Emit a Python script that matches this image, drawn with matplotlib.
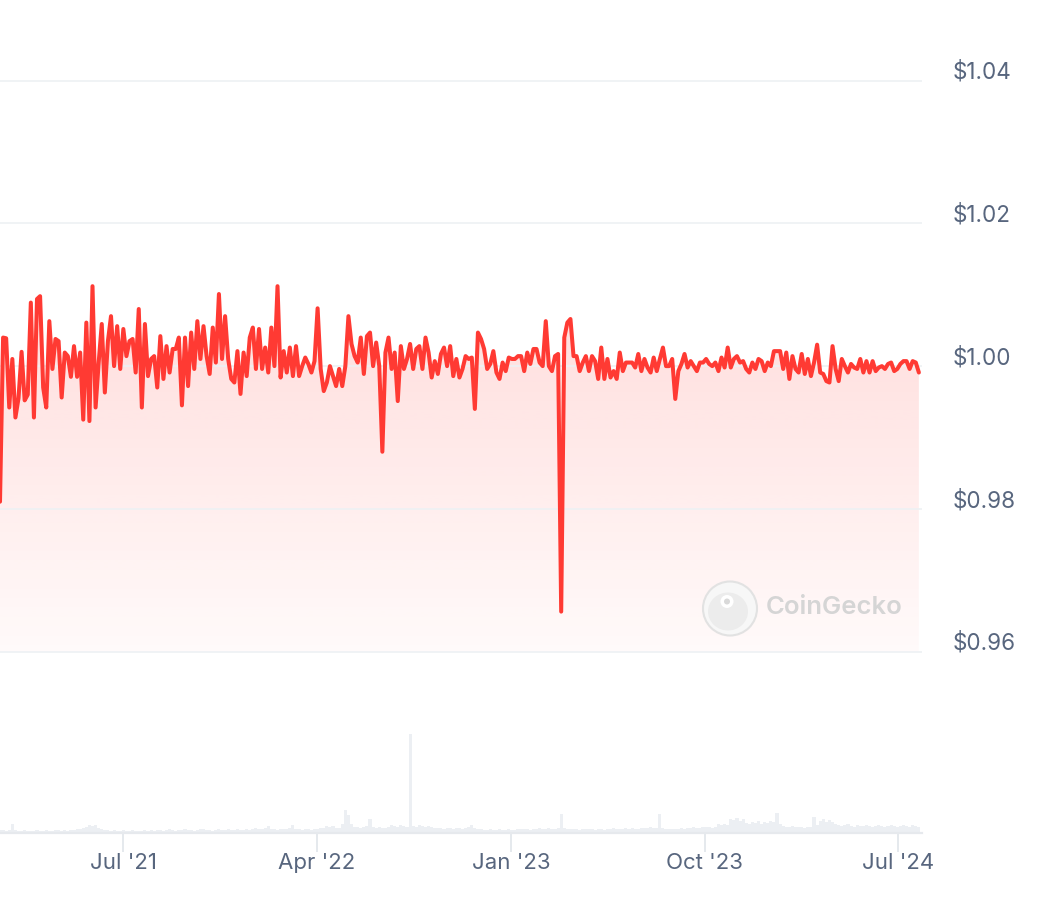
import numpy as np
import pandas as pd
import matplotlib
matplotlib.use("Agg")
import matplotlib.pyplot as plt
import matplotlib.dates as mdates
from matplotlib.patches import Circle, Ellipse
from matplotlib.transforms import blended_transform_factory, ScaledTranslation

plt.rcParams['font.family'] = ['Inter', 'DejaVu Sans']

# ---------------- data ----------------
start_date = '2021-01-08'
end_date = '2024-07-30'

price = [
    # Jan 2021 - Apr 2021
    0.9810, 1.0040, 1.0039, 0.9942, 1.0010, 0.9928, 0.9955, 1.0020, 0.9952, 0.9960,
    1.0089, 0.9928, 1.0094, 1.0098, 0.9970, 0.9942, 1.0063, 0.9996, 1.0038, 1.0035,
    0.9956, 1.0019, 1.0014, 0.9985, 1.0028, 0.9985, 1.0019, 0.9925, 1.0061, 0.9923,
    1.0112, 0.9942, 1.0005, 1.0059, 0.9963, 1.0035, 1.0070, 1.0000, 1.0056, 0.9996,
    1.0052, 1.0014, 1.0035, 1.0038, 0.9991, 1.0080, 0.9942, 1.0059, 0.9986, 1.0010,
    1.0014, 0.9970, 1.0042, 0.9982, 1.0028, 0.9991, 1.0024, 1.0024, 1.0040, 0.9945,
    # 2021 - 2022
    1.0040, 0.9972, 1.0047, 0.9996, 1.0063, 1.0010, 1.0056, 1.0014, 0.9989, 1.0054,
    1.0005, 1.0101, 1.0010, 1.0070, 1.0010, 0.9982, 0.9977, 1.0021, 0.9961, 1.0019,
    0.9986, 1.0040, 1.0054, 0.9996, 1.0052, 0.9996, 1.0026, 0.9991, 1.0054, 1.0000,
    1.0112, 0.9984, 1.0021, 0.9991, 1.0026, 0.9986, 1.0028, 0.9986, 1.0000, 1.0012,
    1.0003, 0.9991, 1.0007, 1.0081, 0.9996, 0.9965, 0.9977, 1.0000, 0.9986, 0.9972,
    0.9996, 0.9972, 1.0000, 1.0070, 1.0031, 1.0014, 1.0005, 1.0040, 0.9989, 1.0042,
    # 2022 - 2023
    1.0047, 1.0000, 1.0033, 1.0000, 0.9880, 1.0019, 1.0040, 0.9996, 1.0019, 0.9951,
    1.0028, 0.9996, 1.0010, 1.0031, 0.9996, 1.0024, 1.0028, 0.9996, 1.0040, 1.0019,
    0.9984, 1.0007, 0.9989, 1.0017, 1.0026, 1.0000, 1.0028, 0.9986, 1.0010, 0.9984,
    0.9996, 1.0014, 1.0010, 1.0012, 0.9940, 1.0047, 1.0038, 1.0024, 0.9996, 1.0003,
    1.0021, 0.9991, 0.9982, 1.0005, 0.9993, 1.0012, 1.0010, 1.0010, 1.0014, 1.0014,
    0.9993, 1.0019, 1.0003, 1.0024, 1.0024, 1.0005, 1.0000, 1.0063, 1.0000, 0.9993,
    # 2023 - 2024
    1.0014, 1.0017, 0.9656, 1.0040, 1.0061, 1.0066, 1.0014, 1.0014, 0.9993, 1.0005,
    1.0014, 0.9993, 1.0014, 1.0007, 0.9982, 1.0026, 0.9982, 1.0010, 0.9984, 0.9993,
    0.9982, 1.0019, 0.9993, 1.0005, 1.0005, 1.0005, 0.9998, 1.0017, 0.9993, 1.0010,
    0.9998, 0.9991, 1.0012, 0.9993, 1.0010, 1.0026, 1.0000, 1.0000, 1.0010, 0.9954,
    0.9993, 1.0003, 1.0017, 0.9998, 1.0007, 1.0000, 0.9993, 1.0005, 1.0005, 1.0010,
    1.0003, 1.0000, 1.0005, 0.9993, 1.0012, 0.9998, 1.0026, 0.9998, 1.0010, 1.0014,
    # 2024
    1.0005, 1.0007, 0.9996, 0.9991, 1.0005, 0.9996, 1.0010, 1.0007, 0.9993, 1.0005,
    1.0000, 1.0021, 1.0021, 1.0021, 0.9996, 1.0019, 0.9982, 1.0014, 0.9996, 0.9991,
    1.0017, 0.9989, 1.0010, 0.9986, 1.0005, 1.0030, 0.9991, 0.9989, 0.9979, 0.9977,
    1.0028, 0.9996, 0.9979, 1.0010, 1.0000, 0.9991, 1.0003, 0.9998, 0.9996, 1.0010,
    0.9991, 1.0007, 0.9991, 1.0007, 0.9993, 0.9998, 1.0000, 0.9996, 1.0003, 1.0005,
    0.9993, 0.9996, 1.0003, 1.0007, 1.0007, 0.9996, 1.0007, 1.0005, 0.9991,
]

volume = [  # relative trading volume ($M)
    3, 3, 2, 3, 9, 3, 2, 2, 3, 2,
    2, 2, 3, 2, 2, 3, 2, 2, 3, 3,
    2, 3, 2, 3, 3, 4, 4, 5, 6, 8,
    7, 8, 5, 4, 3, 3, 2, 3, 2, 2,
    3, 2, 2, 3, 2, 2, 2, 3, 2, 3,
    2, 3, 3, 2, 3, 4, 3, 2, 3, 3,
    4, 3, 3, 2, 3, 4, 4, 3, 3, 2,
    3, 4, 3, 3, 4, 3, 3, 4, 3, 3,
    4, 3, 4, 5, 4, 4, 5, 7, 4, 4,
    3, 4, 4, 4, 5, 8, 4, 4, 3, 4,
    4, 3, 4, 4, 5, 5, 7, 6, 7, 5,
    5, 9, 23, 18, 9, 6, 6, 5, 6, 7,
    14, 6, 5, 6, 5, 5, 6, 8, 7, 6,
    8, 7, 6, 99, 7, 6, 8, 7, 6, 7,
    6, 5, 5, 5, 4, 5, 5, 4, 5, 5,
    4, 5, 6, 8, 5, 4, 4, 3, 3, 4,
    3, 3, 4, 3, 3, 4, 3, 3, 4, 4,
    4, 4, 3, 4, 4, 5, 4, 4, 5, 4,
    4, 5, 19, 5, 4, 4, 4, 4, 3, 4,
    4, 4, 4, 3, 4, 4, 3, 4, 4, 5,
    4, 4, 4, 5, 4, 5, 4, 4, 5, 5,
    5, 6, 5, 5, 19, 5, 4, 4, 4, 4,
    4, 5, 4, 5, 5, 6, 5, 5, 6, 6,
    6, 5, 6, 9, 8, 9, 8, 14, 13, 15,
    12, 14, 10, 9, 11, 10, 12, 9, 11, 10,
    12, 11, 20, 9, 7, 6, 6, 7, 6, 6,
    6, 5, 6, 6, 16, 8, 12, 14, 11, 13,
    11, 9, 8, 7, 8, 9, 7, 6, 8, 7,
    7, 8, 7, 6, 7, 8, 7, 6, 7, 8,
    7, 6, 7, 8, 7, 6, 8, 7, 6,
]

x_tick_dates = ['2021-07-01', '2022-04-01', '2023-01-01', '2023-10-01', '2024-07-01']
x_tick_labels = ["Jul '21", "Apr '22", "Jan '23", "Oct '23", "Jul '24"]
price_ticks = [0.96, 0.98, 1.00, 1.02, 1.04]
price_tick_labels = ['$0.96', '$0.98', '$1.00', '$1.02', '$1.04']

# ---------------- styling ----------------
RED = '#ff3a33'
GRID = '#eef1f4'
LABEL = '#58667e'
W, H = 1043, 898

dates = pd.date_range(start_date, end_date, periods=len(price))
vdates = pd.date_range(start_date, end_date, periods=len(volume))

fig = plt.figure(figsize=(W / 100, H / 100), dpi=100)
fig.patch.set_facecolor('white')

plot_w = 921.7 / W
ax = fig.add_axes([0, 1 - 653 / H, plot_w, 653 / H])
axv = fig.add_axes([0, 1 - 833 / H, plot_w, 120 / H], sharex=ax)

xmin = mdates.date2num(pd.Timestamp('2021-01-08'))
xmax = mdates.date2num(pd.Timestamp('2024-08-03'))
ybot, ytop = 0.96, 1.0513

# gradient area fill under the price line
poly = ax.fill_between(dates, price, ybot, facecolor='none', edgecolor='none')
n = 256
frac = np.linspace(0, 1, n)
pvals = ybot + frac * (ytop - ybot)
alpha = np.clip(0.025 + (pvals - 0.96) / 0.04 * 0.119, 0, 1)
rgba = np.zeros((n, 1, 4))
rgba[..., 0] = 1.0
rgba[..., 1] = 58 / 255
rgba[..., 2] = 51 / 255
rgba[:, 0, 3] = alpha
im = ax.imshow(rgba, extent=[xmin, xmax, ybot, ytop], origin='lower',
               aspect='auto', zorder=1, interpolation='bilinear')
im.set_clip_path(poly.get_paths()[0], ax.transData)

ax.plot(dates, price, color=RED, lw=2.9, solid_joinstyle='round',
        solid_capstyle='round', zorder=3)

ax.set_xlim(xmin, xmax)
ax.set_ylim(0.9598, ytop)
ax.set_yticks(price_ticks)
ax.grid(axis='y', color=GRID, lw=1.2, zorder=0)
ax.tick_params(axis='y', length=0, labelleft=False, labelright=False)
ax.tick_params(axis='x', bottom=False, labelbottom=False)
for s in ax.spines.values():
    s.set_visible(False)
ax.patch.set_alpha(0)

# right-side price labels (slightly above grid lines)
tr = blended_transform_factory(ax.transAxes, ax.transData) + \
    ScaledTranslation(0, 0.08, fig.dpi_scale_trans)
for v, lab in zip(price_ticks, price_tick_labels):
    ax.text(953 / 921.7, v, lab, transform=tr, ha='left', va='center',
            fontsize=16.2, color=LABEL, clip_on=False)

# volume pane
axv.bar(vdates, volume, width=4.4, color='#eceff3', linewidth=0, zorder=1)
axv.set_ylim(0, 120)
axv.set_xlim(xmin, xmax)
axv.patch.set_alpha(0)
for k in ['top', 'left', 'right']:
    axv.spines[k].set_visible(False)
axv.spines['bottom'].set_color('#e6e9ed')
axv.spines['bottom'].set_linewidth(1.6)
axv.set_yticks([])
axv.set_xticks([mdates.date2num(pd.Timestamp(d)) for d in x_tick_dates])
axv.set_xticklabels(x_tick_labels)
axv.tick_params(axis='x', length=14, width=1.3, color='#e3e7ec', pad=0.5,
                labelsize=16, labelcolor=LABEL)

# CoinGecko watermark
cx, cy, r = 7.30, (H - 608.5) / 100, 0.27
fig.add_artist(Circle((cx, cy), r, transform=fig.dpi_scale_trans,
                      facecolor='#f7f7f7', edgecolor='#e2e2e2', lw=1.5, zorder=5))
fig.add_artist(Ellipse((cx - 0.02, cy - 0.03), 0.40, 0.38, transform=fig.dpi_scale_trans,
                       facecolor='#ececec', edgecolor='none', zorder=5))
fig.add_artist(Circle((cx - 0.03, cy + 0.07), 0.065, transform=fig.dpi_scale_trans,
                      facecolor='white', edgecolor='none', zorder=6))
fig.add_artist(Circle((cx - 0.03, cy + 0.07), 0.03, transform=fig.dpi_scale_trans,
                      facecolor='#d9d9d9', edgecolor='none', zorder=7))
fig.text(766 / W, 1 - 608 / H, 'CoinGecko', fontsize=18.5, fontweight='semibold',
         color='#d5d5d5', ha='left', va='center', zorder=6)

fig.savefig('out.png', dpi=100, facecolor='white')
